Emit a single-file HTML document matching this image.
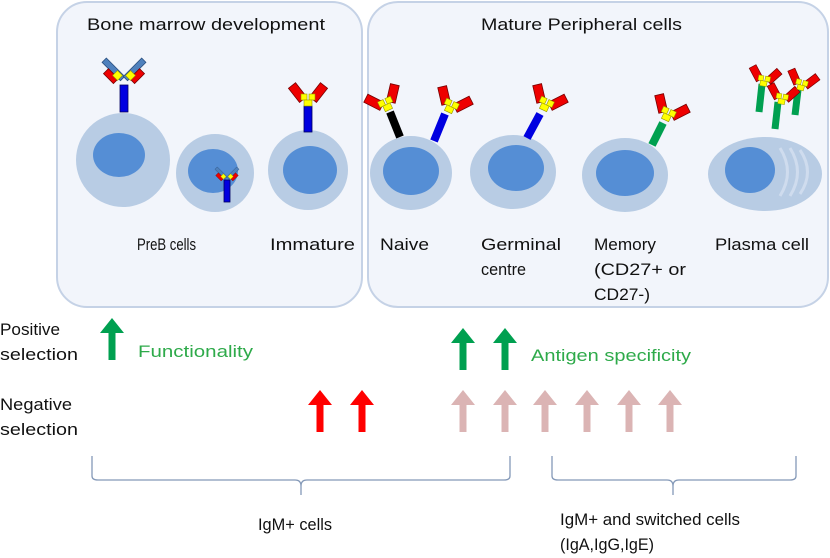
<!DOCTYPE html>
<html><head><meta charset="utf-8"><style>
html,body{margin:0;padding:0;background:#fff;}
svg{display:block;font-family:"Liberation Sans",sans-serif;}
</style></head><body>
<svg width="830" height="558" viewBox="0 0 830 558" xmlns="http://www.w3.org/2000/svg">
<defs>
<g id="h">
 <g transform="rotate(-38)"><rect x="-4.5" y="-26" width="9" height="18" fill="#e00" stroke="#700" stroke-width=".8"/></g>
 <g transform="rotate(38)"><rect x="-4.5" y="-26" width="9" height="18" fill="#e00" stroke="#700" stroke-width=".8"/></g>
 <rect x="-7" y="-12" width="6" height="6" fill="#ff0" stroke="#990" stroke-width=".6"/>
 <rect x="1" y="-12" width="6" height="6" fill="#ff0" stroke="#990" stroke-width=".6"/>
 <rect x="-4" y="-6" width="8" height="6" fill="#ff0" stroke="#990" stroke-width=".6"/>
</g>
<g id="hp">
 <g transform="rotate(-45)"><rect x="-3" y="-28" width="6" height="26" fill="#4f81bd" stroke="#2a4f7f" stroke-width=".8"/><rect x="-10" y="-19" width="7" height="14" fill="#e00" stroke="#700" stroke-width=".8"/></g>
 <g transform="rotate(45)"><rect x="-3" y="-28" width="6" height="26" fill="#4f81bd" stroke="#2a4f7f" stroke-width=".8"/><rect x="3" y="-19" width="7" height="14" fill="#e00" stroke="#700" stroke-width=".8"/></g>
 <rect x="-10" y="-8" width="7" height="7" fill="#ff0" stroke="#990" stroke-width=".6" transform="rotate(45 -6.5 -4.5)"/>
 <rect x="3" y="-8" width="7" height="7" fill="#ff0" stroke="#990" stroke-width=".6" transform="rotate(45 6.5 -4.5)"/>
</g>
<path id="ar" d="M-3.5,0 L-3.5,-27 L-12,-27 L0,-42 L12,-27 L3.5,-27 L3.5,0 Z"/>
</defs>

<rect x="57" y="2" width="305" height="305" rx="30" fill="#f2f5fb" stroke="#c5d2e6" stroke-width="2"/>
<rect x="368" y="2" width="460" height="305" rx="30" fill="#f2f5fb" stroke="#c5d2e6" stroke-width="2"/>

<g font-size="17" fill="#111">
<text x="87" y="30" textLength="238" lengthAdjust="spacingAndGlyphs">Bone marrow development</text>
<text x="481" y="30" textLength="201" lengthAdjust="spacingAndGlyphs">Mature Peripheral cells</text>
</g>

<circle cx="123" cy="160" r="47" fill="#b8cce4"/>
<ellipse cx="119" cy="155" rx="26" ry="22" fill="#558ed5"/>
<rect x="120" y="85" width="8" height="27" fill="#0000e0" stroke="#000060" stroke-width=".8"/>
<use href="#hp" x="124" y="80"/>
<circle cx="215" cy="173" r="39" fill="#b8cce4"/>
<ellipse cx="213" cy="171" rx="25" ry="22" fill="#558ed5"/>
<rect x="224" y="180" width="6" height="22" fill="#0000e0" stroke="#000060" stroke-width=".8"/>
<g transform="translate(227,179) scale(0.55)"><use href="#hp"/></g>
<circle cx="308" cy="170" r="40" fill="#b8cce4"/>
<ellipse cx="310" cy="170" rx="27" ry="24" fill="#558ed5"/>
<rect x="304" y="106" width="8" height="26" fill="#0000e0" stroke="#000060" stroke-width=".8"/>
<use href="#h" x="308" y="106"/>

<ellipse cx="411" cy="173" rx="41" ry="37" fill="#b8cce4"/>
<ellipse cx="411" cy="171" rx="28" ry="24" fill="#558ed5"/>
<line x1="390" y1="112" x2="400" y2="137" stroke="#000" stroke-width="8"/>
<g transform="translate(389,110) rotate(-25)"><use href="#h"/></g>
<line x1="445" y1="114" x2="434" y2="141" stroke="#0000e0" stroke-width="8"/>
<g transform="translate(448,112) rotate(25)"><use href="#h"/></g>
<ellipse cx="513" cy="172" rx="43" ry="37" fill="#b8cce4"/>
<ellipse cx="516" cy="168" rx="28" ry="23" fill="#558ed5"/>
<line x1="540" y1="114" x2="527" y2="138" stroke="#0000e0" stroke-width="8"/>
<g transform="translate(543,110) rotate(25)"><use href="#h"/></g>
<ellipse cx="625" cy="175" rx="43" ry="37" fill="#b8cce4"/>
<ellipse cx="625" cy="173" rx="29" ry="23" fill="#558ed5"/>
<line x1="663" y1="123" x2="652" y2="145" stroke="#00a050" stroke-width="8"/>
<g transform="translate(665,120) rotate(25)"><use href="#h"/></g>
<ellipse cx="765" cy="174" rx="57" ry="37" fill="#b8cce4"/>
<ellipse cx="750" cy="170" rx="25" ry="23" fill="#558ed5"/>
<g fill="none" stroke="#cfdcee" stroke-width="3">
<path d="M780,148 Q795,172 780,196"/><path d="M790,148 Q805,172 790,196"/><path d="M800,150 Q815,172 800,194"/>
</g>
<g stroke="#00a050" stroke-width="7">
<line x1="762" y1="84" x2="759" y2="112"/>
<line x1="778" y1="102" x2="775" y2="129"/>
<line x1="798" y1="90" x2="795" y2="115"/>
</g>
<g transform="translate(763,86) rotate(10) scale(.85)"><use href="#h"/></g>
<g transform="translate(781,104) rotate(10) scale(.85)"><use href="#h"/></g>
<g transform="translate(800,90) rotate(15) scale(.85)"><use href="#h"/></g>

<g font-size="17" fill="#111">
<text x="137" y="250" textLength="59" lengthAdjust="spacingAndGlyphs">PreB cells</text>
<text x="270" y="250" textLength="85" lengthAdjust="spacingAndGlyphs">Immature</text>
<text x="380" y="250" textLength="49" lengthAdjust="spacingAndGlyphs">Naive</text>
<text x="481" y="250" textLength="80" lengthAdjust="spacingAndGlyphs">Germinal</text>
<text x="481" y="275" textLength="45" lengthAdjust="spacingAndGlyphs">centre</text>
<text x="594" y="250" textLength="62" lengthAdjust="spacingAndGlyphs">Memory</text>
<text x="594" y="275" textLength="92" lengthAdjust="spacingAndGlyphs">(CD27+ or</text>
<text x="594" y="300" textLength="56" lengthAdjust="spacingAndGlyphs">CD27-)</text>
<text x="715" y="250" textLength="94" lengthAdjust="spacingAndGlyphs">Plasma cell</text>
<text x="0" y="335" textLength="60" lengthAdjust="spacingAndGlyphs">Positive</text>
<text x="0" y="360" textLength="78" lengthAdjust="spacingAndGlyphs">selection</text>
<text x="0" y="410" textLength="72" lengthAdjust="spacingAndGlyphs">Negative</text>
<text x="0" y="435" textLength="78" lengthAdjust="spacingAndGlyphs">selection</text>
<text x="258" y="530" textLength="74" lengthAdjust="spacingAndGlyphs">IgM+ cells</text>
<text x="560" y="525" textLength="180" lengthAdjust="spacingAndGlyphs">IgM+ and switched cells</text>
<text x="560" y="550" textLength="94" lengthAdjust="spacingAndGlyphs">(IgA,IgG,IgE)</text>
</g>
<g font-size="17" fill="#2eaa4a">
<text x="138" y="357" textLength="115" lengthAdjust="spacingAndGlyphs">Functionality</text>
<text x="531" y="361" textLength="160" lengthAdjust="spacingAndGlyphs">Antigen specificity</text>
</g>

<g fill="#00a050">
<use href="#ar" x="112" y="360"/><use href="#ar" x="463" y="370"/><use href="#ar" x="505" y="370"/>
</g>
<g fill="#f00">
<use href="#ar" x="320" y="432"/><use href="#ar" x="362" y="432"/>
</g>
<g fill="#dbb4b4">
<use href="#ar" x="463" y="432"/><use href="#ar" x="505" y="432"/><use href="#ar" x="545" y="432"/><use href="#ar" x="587" y="432"/><use href="#ar" x="629" y="432"/><use href="#ar" x="670" y="432"/>
</g>

<g fill="none" stroke="#8499b8" stroke-width="1.3">
<path d="M92,456 L92,476 Q92,480 98,480 L295,480 Q301,480 301,486 L301,495 M301,486 Q301,480 307,480 L504,480 Q510,480 510,476 L510,456"/>
<path d="M552,456 L552,476 Q552,480 558,480 L667,480 Q673,480 673,486 L673,495 M673,486 Q673,480 679,480 L790,480 Q796,480 796,476 L796,456"/>
</g>
</svg>
</body></html>
